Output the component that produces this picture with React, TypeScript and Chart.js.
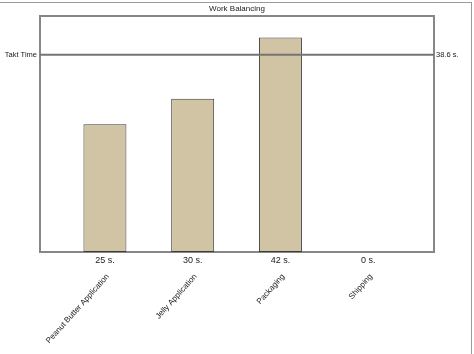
import React, { useEffect, useRef } from "react";
import { Chart, registerables } from "chart.js";

Chart.register(...registerables);

const categories = ["Peanut Butter Application", "Jelly Application", "Packaging", "Shipping"];
const cycleTimes = [25, 30, 42, 0];
const taktTime = 38.6;
const taktLabel = "Takt Time";
const chartTitle = "Work Balancing";
const yMax = 46.2;
const xMin = -0.74;
const xMax = 3.75;

const FONT = "'Liberation Sans', Arial, sans-serif";
const FRAME = "#878787";
const TEXT = "#222";

export default function App() {
  const ref = useRef<HTMLCanvasElement | null>(null);

  useEffect(() => {
    const canvas = ref.current;
    if (!canvas) return;
    const catTicks = (s: any) => {
      s.ticks = categories.map((_, i) => ({ value: i }));
    };
    const chart = new Chart(canvas, {
      type: "bar",
      data: {
        datasets: [
          {
            type: "line",
            data: [
              { x: xMin, y: taktTime },
              { x: xMax, y: taktTime },
            ],
            borderColor: "#747474",
            borderWidth: 2,
            pointRadius: 0,
            order: 0,
            xAxisID: "x",
            yAxisID: "y",
          } as any,
          {
            type: "bar",
            data: categories.map((_, i) => ({ x: i, y: cycleTimes[i] })),
            backgroundColor: "#D0C4A5",
            borderColor: "#3c3c3c",
            borderWidth: 1,
            borderSkipped: false,
            barPercentage: 0.49,
            categoryPercentage: 1,
            order: 1,
            xAxisID: "x",
            yAxisID: "y",
          } as any,
        ],
      },
      options: {
        animation: false,
        responsive: false,
        maintainAspectRatio: false,
        layout: { padding: 0 },
        plugins: { legend: { display: false }, tooltip: { enabled: false } },
        scales: {
          x: {
            type: "linear",
            position: "bottom",
            offset: false,
            weight: 0,
            min: xMin,
            max: xMax,
            grid: { display: false, drawTicks: false, offset: false },
            border: { display: true, color: FRAME, width: 2 },
            afterBuildTicks: catTicks,
            afterFit: (s: any) => {
              s.height = 14;
            },
            ticks: {
              autoSkip: false,
              minRotation: 0,
              maxRotation: 0,
              padding: 3,
              color: TEXT,
              font: { size: 9, family: FONT },
              callback: (_v: any, i: number) => `${cycleTimes[i]} s.`,
            },
          },
          x2: {
            type: "linear",
            position: "bottom",
            offset: false,
            weight: 1,
            min: xMin,
            max: xMax,
            grid: { display: false, drawTicks: false, offset: false },
            border: { display: false },
            afterBuildTicks: catTicks,
            afterFit: (s: any) => {
              s.height = 88;
            },
            ticks: {
              autoSkip: false,
              minRotation: 48,
              maxRotation: 48,
              padding: 6,
              labelOffset: 3,
              color: TEXT,
              font: { size: 8, family: FONT },
              callback: (_v: any, i: number) => categories[i],
            },
          },
          xt: {
            type: "linear",
            position: "top",
            offset: false,
            min: xMin,
            max: xMax,
            grid: { display: false, drawTicks: false, offset: false },
            border: { display: true, color: FRAME, width: 2 },
            ticks: { display: false },
            afterFit: (s: any) => {
              s.height = 16;
            },
            title: {
              display: true,
              text: chartTitle,
              color: TEXT,
              font: { size: 8, family: FONT },
              padding: { top: 4, bottom: 0 },
            },
          },
          y: {
            type: "linear",
            position: "left",
            min: 0,
            max: yMax,
            grid: { display: false, drawTicks: false },
            border: { display: true, color: FRAME, width: 2 },
            afterBuildTicks: (s: any) => {
              s.ticks = [{ value: taktTime }];
            },
            afterFit: (s: any) => {
              s.width = 40;
            },
            ticks: {
              padding: 3,
              color: TEXT,
              font: { size: 7.5, family: FONT },
              callback: () => taktLabel,
            },
          },
          y2: {
            type: "linear",
            position: "right",
            min: 0,
            max: yMax,
            grid: { display: false, drawTicks: false },
            border: { display: true, color: FRAME, width: 2 },
            afterBuildTicks: (s: any) => {
              s.ticks = [{ value: taktTime }];
            },
            afterFit: (s: any) => {
              s.width = 40;
            },
            ticks: {
              padding: 2,
              color: TEXT,
              font: { size: 7.5, family: FONT },
              callback: () => `${taktTime} s.`,
            },
          },
        },
      } as any,
    });
    return () => chart.destroy();
  }, []);

  return (
    <div
      style={{
        position: "absolute",
        left: 0,
        top: 0,
        width: 474,
        height: 354,
        overflow: "hidden",
        background: "#fff",
      }}
    >
      <canvas ref={ref} width={474} height={354} style={{ display: "block", width: 474, height: 354 }} />
      <div
        style={{
          position: "absolute",
          left: -10,
          top: 2,
          width: 482,
          height: 400,
          border: "1px solid #9a9a9a",
          boxSizing: "border-box",
          pointerEvents: "none",
        }}
      />
    </div>
  );
}
